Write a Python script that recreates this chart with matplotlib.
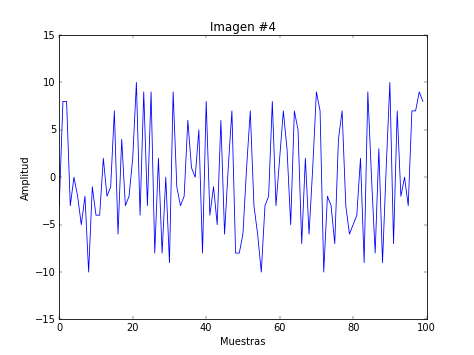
import matplotlib
matplotlib.use("Agg")
import matplotlib.pyplot as plt

plt.style.use("classic")
plt.rcParams["figure.facecolor"] = "white"

muestras = list(range(100))
amplitud = [-3, 8, 8, -3, 0, -2, -5, -2, -10, -1,
            -4, -4, 2, -2, -1, 7, -6, 4, -3, -2,
            2, 10, -4, 9, -3, 9, -8, 2, -8, 0,
            -9, 9, -1, -3, -2, 6, 1, 0, 5, -8,
            8, -4, -1, -5, 6, -6, 1, 7, -8, -8,
            -6, 1, 7, -3, -6, -10, -3, -2, 8, -3,
            2, 7, 3, -5, 7, 5, -7, 2, -6, 1,
            9, 7, -10, -2, -3, -7, 4, 7, -3, -6,
            -5, -4, 2, -9, 9, 0, -8, 3, -9, 1,
            10, -7, 7, -2, 0, -3, 7, 7, 9, 8]

fig = plt.figure(figsize=(8, 6), dpi=59.25)
plt.plot(muestras, amplitud, "b-")
plt.title("Imagen #4")
plt.xlabel("Muestras")
plt.ylabel("Amplitud")
plt.xlim(0, 100)
plt.ylim(-15, 15)
fig.savefig("out.png", dpi=59.25)
